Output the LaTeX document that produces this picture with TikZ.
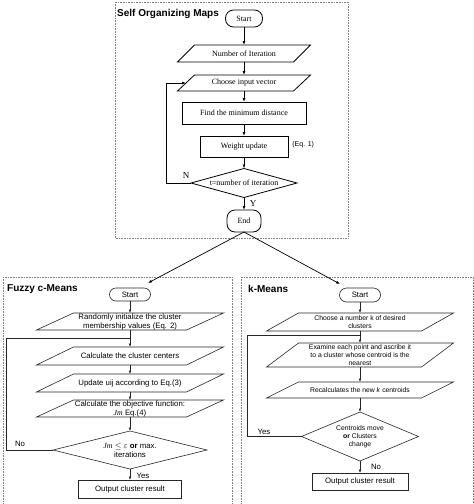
\documentclass[tikz,border=0pt]{standalone}
\usepackage{fontspec}
\setmainfont{Liberation Serif}
\setsansfont{Liberation Sans}
\usetikzlibrary{shapes.geometric,arrows.meta}

\newcommand{\somfont}{\fontsize{8}{9}\selectfont}
\newcommand{\fcmfont}{\sffamily\fontsize{7.8}{9}\selectfont}
\newcommand{\kmfont}{\sffamily\fontsize{6.8}{7.8}\selectfont}

% slanted input/output box: name, position, body width, height, half slant, text
\newcommand{\ionode}[6]{%
  \node[iotext, minimum width=#3, minimum height=#4] (#1) at #2 {#6};
  \draw ([xshift=-#5]#1.south west) -- ([xshift=-#5]#1.south east)
     -- ([xshift=#5]#1.north east) -- ([xshift=#5]#1.north west) -- cycle;}

\tikzset{
  groupframe/.style={draw=black!50, densely dotted, line width=0.6pt},
  grouptitle/.style={anchor=west, inner sep=0pt, font=\sffamily\bfseries\fontsize{10}{12}\selectfont},
  termbox/.style={draw, rectangle, rounded corners=7pt, inner sep=0pt, outer sep=0pt},
  procbox/.style={draw, rectangle, inner sep=0pt, outer sep=0pt, align=center},
  iotext/.style={rectangle, inner sep=0pt, outer sep=0pt, align=center},
  testbox/.style={draw, diamond, inner sep=0pt, outer sep=0pt, align=center},
  flow/.style={-{Latex[length=4pt,width=3pt]}},
  smallflow/.style={-{Latex[length=3.5pt,width=2.6pt]}},
  branchlabel/.style={inner sep=0pt}
}

\begin{document}
\begin{tikzpicture}[x=1pt,y=-1pt]
\useasboundingbox (0,0) rectangle (474,504);
\clip (0,0) rectangle (474,504);

% group frames
\draw[groupframe] (115,2) rectangle (348,238);
\draw[groupframe] (3,277) rectangle (232,510);
\draw[groupframe] (241,277) rectangle (473,510);

\node[grouptitle] (somTitle) at (117,14) {Self Organizing Maps};
\node[grouptitle] (fcmTitle) at (7,289) {Fuzzy c-Means};
\node[grouptitle] (kmTitle) at (248,289) {k-Means};

% self organizing maps
\begin{scope}[font=\somfont, line width=0.8pt]
  \node[termbox, minimum width=37pt, minimum height=17pt, rounded corners=8pt] (somStart) at (244,18.5) {Start};
  \ionode{somIter}{(244,53.5)}{116pt}{17pt}{8.5pt}{Number of Iteration}
  \ionode{somInput}{(244,83)}{116pt}{16pt}{8.5pt}{Choose input vector}
  \node[procbox, minimum width=124pt, minimum height=22pt] (somDist) at (244,113) {Find the minimum distance};
  \node[procbox, minimum width=88pt, minimum height=21pt] (somWeight) at (244,146.5) {Weight update};
  \node[font=\sffamily\fontsize{7}{8}\selectfont, anchor=west, inner sep=0pt] (somEq) at (292,145) {(Eq. 1)};
  \node[testbox, minimum width=106pt, minimum height=29pt, aspect=3.6] (somCheck) at (244,183) {t=number of iteration};
  \node[termbox, minimum width=34pt, minimum height=22pt, rounded corners=8pt] (somEnd) at (244,221) {End};

  \coordinate (somLoop) at (166,183);
  \draw[flow] (somStart) -- (somIter);
  \draw[flow] (somIter) -- (somInput);
  \draw[flow] (somInput) -- (somDist);
  \draw[flow] (somDist) -- (somWeight);
  \draw[flow] (somWeight) -- (somCheck);
  \draw[flow] (somCheck) -- (somEnd);
  \draw[flow] (somCheck.west) -- (somLoop) |- (somInput);
  \node[branchlabel, font=\fontsize{9}{10}\selectfont] (somNo) at (186,176) {N};
  \node[branchlabel, font=\fontsize{9}{10}\selectfont] (somYes) at (253,204) {Y};
\end{scope}

% split to the two clustering methods
\coordinate (fcmIn) at (148,283);
\coordinate (kmIn) at (340,284);
\draw[flow, line width=0.7pt] (somEnd.south) -- (fcmIn);
\draw[flow, line width=0.7pt] (somEnd.south) -- (kmIn);

% fuzzy c-means
\begin{scope}[font=\fcmfont, line width=0.6pt, draw=black!85]
  \node[termbox, minimum width=41pt, minimum height=13pt, rounded corners=6.5pt] (fcmStart) at (130,294.5) {Start};
  \ionode{fcmInit}{(130,321.5)}{150pt}{17pt}{18.5pt}{Randomly initialize the cluster\\membership values (Eq. 2)}
  \ionode{fcmCenters}{(130,356)}{150pt}{18pt}{18.5pt}{Calculate the cluster centers}
  \ionode{fcmUpdate}{(130,383)}{150pt}{18pt}{18.5pt}{Update uij according to Eq.(3)}
  \ionode{fcmObj}{(130,408.5)}{150pt}{17pt}{18.5pt}{Calculate the objective function:\\$\mathit{Jm}$ Eq.(4)}
  \node[testbox, minimum width=154pt, minimum height=38pt, aspect=4] (fcmCheck) at (130,450) {$\mathit{Jm} \leq \varepsilon$ \textbf{or} max.\\iterations};
  \node[procbox, minimum width=103pt, minimum height=18pt] (fcmOut) at (130,489) {Output cluster result};

  \coordinate (fcmLoop) at (6,450);
  \coordinate (fcmJoin) at (130,338);
  \draw[smallflow] (fcmStart) -- (fcmInit);
  \draw[smallflow] (fcmInit) -- (fcmCenters);
  \draw[smallflow] (fcmCenters) -- (fcmUpdate);
  \draw[smallflow] (fcmUpdate) -- (fcmObj);
  \draw[smallflow] (fcmObj) -- (fcmCheck);
  \draw[smallflow] (fcmCheck) -- (fcmOut);
  \draw (fcmCheck.west) -- (fcmLoop) |- (fcmJoin);
  \node[branchlabel] (fcmNo) at (20,444) {No};
  \node[branchlabel] (fcmYes) at (143,476) {Yes};
\end{scope}

% k-means
\begin{scope}[font=\kmfont, line width=0.6pt, draw=black!85]
  \node[termbox, minimum width=41pt, minimum height=14pt, rounded corners=7pt, font=\sffamily\fontsize{7.8}{9}\selectfont] (kmStart) at (360,295) {Start};
  \ionode{kmChoose}{(360,322)}{155pt}{18pt}{16pt}{Choose a number k of desired\\clusters}
  \ionode{kmAssign}{(360,355)}{155pt}{24pt}{16pt}{Examine each point and ascribe it\\to a cluster whose centroid is the\\nearest}
  \ionode{kmUpdate}{(360,390)}{155pt}{16pt}{16pt}{Recalculates the new \textit{k} centroids}
  \node[testbox, minimum width=117pt, minimum height=49pt, aspect=2.4] (kmCheck) at (360,436.5) {Centroids move\\\textbf{or} Clusters\\change};
  \node[procbox, minimum width=96pt, minimum height=17pt, font=\sffamily\fontsize{7.8}{9}\selectfont] (kmOut) at (360,481.5) {Output cluster result};

  \coordinate (kmLoop) at (247,436.5);
  \coordinate (kmJoin) at (360,335);
  \draw[smallflow] (kmStart) -- (kmChoose);
  \draw[smallflow] (kmChoose) -- (kmAssign);
  \draw[smallflow] (kmAssign) -- (kmUpdate);
  \draw[smallflow] (kmUpdate) -- (kmCheck);
  \draw[smallflow] (kmCheck) -- (kmOut);
  \draw (kmCheck.west) -- (kmLoop) |- (kmJoin);
  \node[branchlabel, font=\sffamily\fontsize{7.8}{9}\selectfont] (kmYes) at (264,432) {Yes};
  \node[branchlabel, font=\sffamily\fontsize{7.8}{9}\selectfont] (kmNo) at (376,467) {No};
\end{scope}
\end{tikzpicture}
\end{document}
